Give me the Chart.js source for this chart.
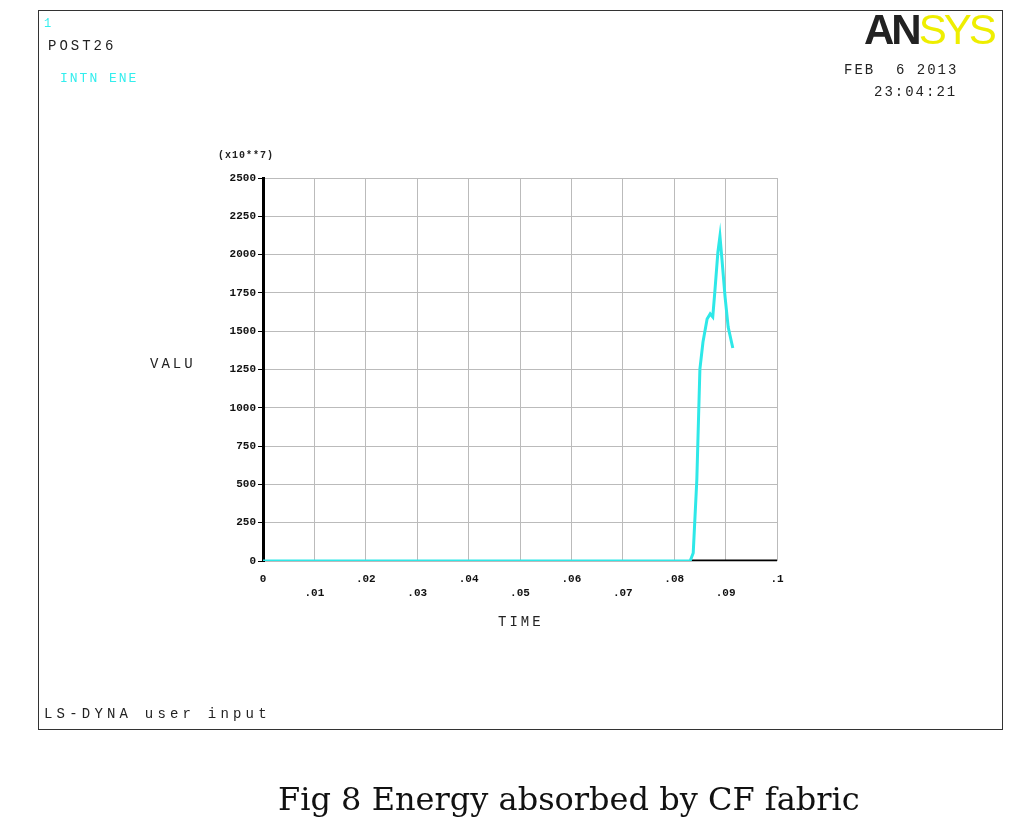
<!DOCTYPE html>
<html><head><meta charset="utf-8">
<script src="https://cdn.jsdelivr.net/npm/chart.js@4"></script>
<style>
body{margin:0;background:#fff;width:1020px;height:826px;position:relative;overflow:hidden}
#c{position:absolute;left:0;top:0}
.t{position:absolute;font-family:"Liberation Mono",monospace;font-size:14px;letter-spacing:3px;color:#222;white-space:pre}
.frame{position:absolute;left:38px;top:10px;width:965px;height:720px;border:1.5px solid #333;box-sizing:border-box}
</style></head><body>
<div class="frame"></div>
<canvas id="c" width="1020" height="826"></canvas>
<div class="t" style="left:44px;top:17px;color:#3ee;font-size:12px">1</div>
<div class="t" style="left:48px;top:38px">POST26</div>
<div class="t" style="left:60px;top:71px;color:#3ee;font-size:13px;letter-spacing:2px">INTN ENE</div>
<div class="t" style="left:864px;top:6px;font-family:'Liberation Sans';font-size:42px;font-weight:bold;letter-spacing:-3px">AN<span style="color:#ee0;font-family:'Liberation Sans';font-weight:normal">SYS</span></div>
<div class="t" style="left:844px;top:62px;letter-spacing:2px">FEB  6 2013</div>
<div class="t" style="left:874px;top:84px;letter-spacing:2px">23:04:21</div>
<div class="t" style="left:218px;top:150px;font-size:10px;font-weight:bold;letter-spacing:1px">(x10**7)</div>
<div class="t" style="left:150px;top:356px">VALU</div>
<div class="t" style="left:498px;top:614px">TIME</div>
<div class="t" style="left:44px;top:706px;letter-spacing:4.2px">LS-DYNA user input</div>
<div style="position:absolute;left:278px;top:780px;font-family:'DejaVu Serif',serif;font-size:32px;color:#111;white-space:nowrap">Fig 8 Energy absorbed by CF fabric</div>
<script>
const times = [0, 0.0831, 0.0837, 0.0844, 0.0850, 0.0856, 0.0864, 0.0870, 0.0875, 0.0879, 0.0885, 0.0889, 0.0893, 0.0899, 0.0905, 0.0914];
const energy = [0, 0, 52, 529, 1253, 1429, 1580, 1613, 1593, 1755, 2016, 2120, 1965, 1723, 1527, 1390];
const xTicks = ['0', '.01', '.02', '.03', '.04', '.05', '.06', '.07', '.08', '.09', '.1'];
const yTicks = [0, 250, 500, 750, 1000, 1250, 1500, 1750, 2000, 2250, 2500];

const font = {family: 'Liberation Mono', size: 11, weight: 'bold'};
new Chart(document.getElementById('c'), {
  type: 'scatter',
  data: {
    datasets: [{
      data: times.map((t, i) => ({x: t, y: energy[i]})),
      showLine: true, borderColor: '#2ee8e8', borderWidth: 3, pointRadius: 0, order: 1
    }, {
      data: [{x: times[1], y: 0}, {x: 0.1, y: 0}],
      showLine: true, borderColor: '#000', borderWidth: 3, pointRadius: 0, order: 2
    }]
  },
  options: {
    responsive: false, animation: false,
    layout: {padding: {left: 223, top: 178, right: 243, bottom: 215}},
    plugins: {legend: {display: false}, tooltip: {enabled: false}},
    scales: {
      x: {
        type: 'linear', min: 0, max: 0.1,
        afterBuildTicks: s => { s.ticks = xTicks.map((l, i) => ({value: i / 100})); },
        afterFit: s => { s.height = 50; },
        grid: {color: '#bbb', drawTicks: false},
        border: {display: false},
        ticks: {color: '#111', font, padding: 12, maxRotation: 0, autoSkip: false,
          callback: (v, i) => i % 2 ? ['', xTicks[i]] : [xTicks[i]]}
      },
      y: {
        min: 0, max: 2500,
        afterBuildTicks: s => { s.ticks = yTicks.map(v => ({value: v})); },
        afterFit: s => { s.width = 40; },
        grid: {color: '#bbb', tickLength: 5, tickColor: '#000'},
        border: {color: '#000', width: 3},
        ticks: {color: '#111', font, padding: 2, callback: v => String(v)}
      }
    }
  }
});
</script>
</body></html>
